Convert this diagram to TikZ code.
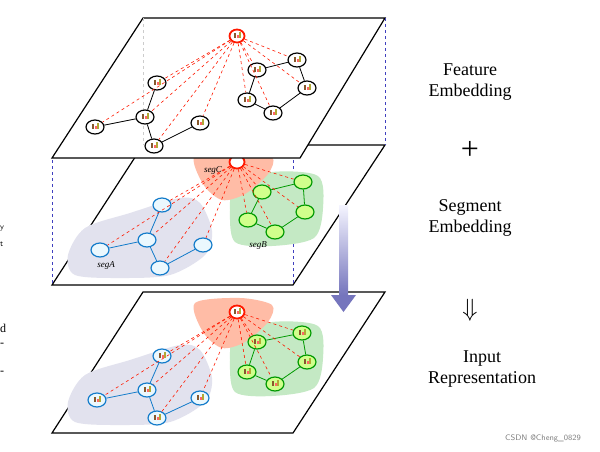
\documentclass[tikz,border=0pt]{standalone}
\usepackage{fontspec}
\setmainfont{Liberation Serif}
\usetikzlibrary{shapes.geometric,arrows.meta}
\begin{document}
\begin{tikzpicture}[x=1pt,y=-1pt,
 plane/.style={draw=black,line width=1.2pt,fill=white},
 vdash/.style={draw=blue!50!gray,dashed,line width=0.5pt},
 nd/.style={ellipse,minimum width=18pt,minimum height=14pt,inner sep=0,line width=1.2pt},
 bk/.style={nd,draw=black,fill=white},
 bl/.style={nd,draw=cyan!60!blue,fill=cyan!8},
 gr/.style={nd,draw=green!60!black,fill=green!40!yellow!45},
 rt/.style={nd,draw=red!80!orange,line width=1.8pt,fill=white,minimum width=15pt,minimum height=13pt},
 rd/.style={draw=red!80!orange,dashed,line width=0.6pt},
 ed/.style={line width=0.8pt},
 lab/.style={font=\itshape\small},
 big/.style={font=\fontsize{18}{21}\selectfont,align=center}]
\useasboundingbox (0,0) rectangle (600,451);
\newcommand{\bars}[1]{\fill[brown!70!black] ([xshift=-3pt,yshift=-2pt]#1) rectangle ++(2,-5); \fill[red!60] ([xshift=0pt,yshift=-2pt]#1) rectangle ++(2,-3); \fill[olive!70] ([xshift=2pt,yshift=-2pt]#1) rectangle ++(2,-6);}
% bottom plane
\draw[plane] (143,292) -- (385,292) -- (293,433) -- (52,433) -- cycle;
\fill[blue!25!gray!18] plot[smooth cycle] coordinates {(85,375)(130,360)(180,345)(200,350)(212,378)(205,402)(170,422)(120,425)(75,422)(68,402)};
\fill[green!45!gray!32] plot[smooth cycle] coordinates {(235,335)(272,322)(318,326)(323,358)(314,388)(272,396)(235,392)(230,360)};
\fill[red!50!orange!35] plot[smooth cycle] coordinates {(195,303)(240,298)(272,305)(268,322)(245,342)(222,348)(203,332)};
\node[rt] (R3) at (237,312) {};
\node[bl] (A1) at (162,356) {}; \node[bl] (A2) at (147,390) {}; \node[bl] (A3) at (97,400) {};
\node[bl] (A4) at (157,418) {}; \node[bl] (A5) at (200,398) {};
\node[gr] (B1) at (257,342) {}; \node[gr] (B2) at (302,333) {}; \node[gr] (B3) at (307,362) {};
\node[gr] (B4) at (275,384) {}; \node[gr] (B5) at (247,372) {};
\draw[ed,cyan!60!blue] (A1)--(A2) (A2)--(A3) (A2)--(A4) (A4)--(A5);
\draw[ed,green!60!black] (B1)--(B2)--(B3)--(B4)--(B5)--(B1);
\foreach \n in {A1,A2,A3,A4,A5,B1,B2,B3,B4,B5} \draw[rd] (R3)--(\n);
\foreach \n in {R3,A1,A2,A3,A4,A5,B1,B2,B3,B4,B5} {\bars{\n}}
% middle plane
\draw[plane] (143,145) -- (385,145) -- (293,285) -- (52,285) -- cycle;
\draw[vdash] (52,160)--(52,285) (293,160)--(293,285);
\fill[blue!25!gray!18] plot[smooth cycle] coordinates {(85,228)(130,213)(180,198)(200,203)(212,231)(205,255)(170,275)(120,278)(75,275)(68,255)};
\fill[green!45!gray!32] plot[smooth cycle] coordinates {(235,185)(272,172)(318,176)(323,208)(314,238)(272,246)(235,242)(230,210)};
\fill[red!50!orange!35] plot[smooth cycle] coordinates {(195,155)(240,150)(272,157)(268,174)(245,194)(222,200)(203,184)};
\node[rt] (R2) at (237,162) {};
\node[bl] (a1) at (162,205) {}; \node[bl] (a2) at (147,240) {}; \node[bl] (a3) at (100,250) {};
\node[bl] (a4) at (160,268) {}; \node[bl] (a5) at (203,245) {};
\node[gr] (b1) at (262,192) {}; \node[gr] (b2) at (303,182) {}; \node[gr] (b3) at (305,212) {};
\node[gr] (b4) at (275,232) {}; \node[gr] (b5) at (248,220) {};
\draw[ed,cyan!60!blue] (a1)--(a2) (a2)--(a3) (a2)--(a4) (a4)--(a5);
\draw[ed,green!60!black] (b1)--(b2)--(b3)--(b4)--(b5)--(b1);
\foreach \n in {a1,a2,a3,a4,a5,b1,b2,b3,b4,b5} \draw[rd] (R2)--(\n);
\node[lab] (sc) at (213,170) {segC};
\node[lab] (sa) at (106,265) {segA};
\node[lab] (sb) at (258,246) {segB};
% arrow
\shade[top color=blue!4,bottom color=blue!35!gray!80] (339,205) rectangle (348,295);
\fill[blue!35!gray!80] (331,295) -- (356,295) -- (343.5,312) -- cycle;
% top plane
\draw[plane] (143,18) -- (385,18) -- (300,158) -- (52,158) -- cycle;
\draw[vdash] (385,18)--(385,145);
\draw[vdash,black!20] (143,18)--(143,145);
\node[rt] (R1) at (237,36) {};
\node[bk] (n1) at (157,83) {}; \node[bk] (n2) at (145,117) {}; \node[bk] (n3) at (95,127) {};
\node[bk] (n4) at (154,146) {}; \node[bk] (n5) at (200,123) {};
\node[bk] (r1) at (257,70) {}; \node[bk] (r2) at (297,60) {}; \node[bk] (r3) at (307,88) {};
\node[bk] (r4) at (273,113) {}; \node[bk] (r5) at (247,100) {};
\draw[ed] (n1)--(n2) (n2)--(n3) (n2)--(n4) (n4)--(n5);
\draw[ed] (r1)--(r2)--(r3)--(r4)--(r5)--(r1);
\foreach \n in {n1,n2,n3,n4,n5,r1,r2,r3,r4,r5} \draw[rd] (R1)--(\n);
\foreach \n in {R1,n1,n2,n3,n4,n5,r1,r2,r3,r4,r5} {\bars{\n}}
% right texts
\node[big] (t1) at (470,82) {Feature\\Embedding};
\node[font=\fontsize{32}{34}\selectfont] (t2) at (470,150) {+};
\node[big] (t3) at (470,218) {Segment\\Embedding};
\node[font=\fontsize{30}{32}\selectfont] (t4) at (470,310) {$\Downarrow$};
\node[big] (t5) at (482,369) {Input\\Representation};
% cut-off left text
\node[font=\fontsize{8}{9}\selectfont\sffamily,anchor=west,inner sep=0] (l1) at (0,229) {y};
\node[font=\fontsize{8}{9}\selectfont\sffamily,anchor=west,inner sep=0] (l2) at (0,244) {t};
\node[font=\fontsize{12}{13}\selectfont,anchor=west,inner sep=0] (l3) at (0,328) {d};
\node[font=\fontsize{12}{13}\selectfont,anchor=west,inner sep=0] (l4) at (0,345) {-};
\node[font=\fontsize{12}{13}\selectfont,anchor=west,inner sep=0] (l5) at (0,373) {-};
\node[font=\fontsize{8}{9}\selectfont\sffamily,text=gray] (wm) at (543,438) {CSDN @Cheng\_0829};
\end{tikzpicture}
\end{document}
